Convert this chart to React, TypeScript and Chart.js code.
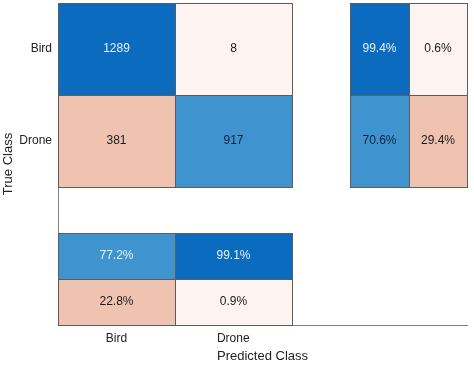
import React, { useEffect, useRef } from "react";
import { Chart, registerables } from "chart.js";

Chart.register(...registerables);

const categories = ["Bird", "Drone"];
// confusion counts [true][predicted]
const counts = [
  [1289, 8],
  [381, 917],
];
// row-normalized summary (%)
const rowSummary = [
  [99.4, 0.6],
  [70.6, 29.4],
];
// column-normalized summary (%) [row: correct / incorrect][predicted]
const colSummary = [
  [77.2, 99.1],
  [22.8, 0.9],
];

const DARK = "#0b6cbf";
const MID = "#3f93cf";
const PINK = "#f0c3b0";
const LIGHT = "#fdf4f1";

const countColors = [
  [DARK, LIGHT],
  [PINK, MID],
];
const countText = [
  ["#e4f2ff", "#1a1a1a"],
  ["#1a1a1a", "#0b2240"],
];
const rowColors = [
  [DARK, LIGHT],
  [MID, PINK],
];
const rowText = [
  ["#e4f2ff", "#1a1a1a"],
  ["#0b2240", "#1a1a1a"],
];
const colColors = [
  [MID, DARK],
  [PINK, LIGHT],
];
const colText = [
  ["#e4f2ff", "#e4f2ff"],
  ["#1a1a1a", "#1a1a1a"],
];

const FONT = "'Liberation Sans', Arial, Helvetica, sans-serif";

const cellPlugin = {
  id: "cells",
  beforeDatasetsDraw(chart: any) {
    const { ctx } = chart;
    const xs = chart.scales.x;
    const ys = chart.scales.y;
    const cell = (
      x0: number,
      x1: number,
      y0: number,
      y1: number,
      fill: string,
      text: string,
      tcol: string
    ) => {
      const px0 = Math.round(xs.getPixelForValue(x0));
      const px1 = Math.round(xs.getPixelForValue(x1));
      const py0 = Math.round(ys.getPixelForValue(y0));
      const py1 = Math.round(ys.getPixelForValue(y1));
      ctx.save();
      ctx.fillStyle = fill;
      ctx.fillRect(px0, py0, px1 - px0, py1 - py0);
      ctx.strokeStyle = "#5c5c5c";
      ctx.lineWidth = 1;
      ctx.strokeRect(px0 + 0.5, py0 + 0.5, px1 - px0, py1 - py0);
      ctx.fillStyle = tcol;
      ctx.font = `12px ${FONT}`;
      ctx.textAlign = "center";
      ctx.textBaseline = "middle";
      ctx.fillText(text, (px0 + px1) / 2, (py0 + py1) / 2);
      ctx.restore();
    };
    // main matrix
    for (let r = 0; r < 2; r++)
      for (let c = 0; c < 2; c++)
        cell(c, c + 1, r, r + 1, countColors[r][c], String(counts[r][c]), countText[r][c]);
    // row summary
    for (let r = 0; r < 2; r++)
      for (let c = 0; c < 2; c++)
        cell(
          2.5 + c * 0.5,
          3 + c * 0.5,
          r,
          r + 1,
          rowColors[r][c],
          rowSummary[r][c].toFixed(1) + "%",
          rowText[r][c]
        );
    // column summary
    for (let r = 0; r < 2; r++)
      for (let c = 0; c < 2; c++)
        cell(
          c,
          c + 1,
          2.5 + r * 0.5,
          3 + r * 0.5,
          colColors[r][c],
          colSummary[r][c].toFixed(1) + "%",
          colText[r][c]
        );
  },
};

export default function App() {
  const ref = useRef<HTMLCanvasElement>(null);
  useEffect(() => {
    if (!ref.current) return;
    const tickPos = categories.map((_, i) => i + 0.5);
    const chart = new Chart(ref.current, {
      type: "scatter",
      data: { datasets: [{ data: [], pointRadius: 0 }] },
      options: {
        animation: false,
        responsive: false,
        layout: { padding: { top: 3, right: 7, left: 0, bottom: 0 } },
        plugins: { legend: { display: false }, tooltip: { enabled: false } },
        scales: {
          x: {
            type: "linear",
            min: 0,
            max: 3.5,
            afterBuildTicks: (s: any) => {
              s.ticks = tickPos.map((v) => ({ value: v }));
            },
            afterFit: (s: any) => {
              s.height = 41;
              s.paddingLeft = 0;
              s.paddingRight = 0;
            },
            ticks: {
              autoSkip: false,
              maxRotation: 0,
              padding: 6,
              color: "#222",
              font: { family: FONT, size: 12 },
              callback: (v: any) => categories[Math.floor(Number(v))] ?? "",
            },
            grid: { display: false, drawTicks: false },
            border: { display: true, color: "#808080", width: 1 },
            title: {
              display: true,
              text: "Predicted Class",
              color: "#222",
              font: { family: FONT, size: 13 },
              padding: { top: 0, bottom: 2 },
            },
          },
          y: {
            type: "linear",
            min: 0,
            max: 3.5,
            reverse: true,
            afterBuildTicks: (s: any) => {
              s.ticks = tickPos.map((v) => ({ value: v }));
            },
            afterFit: (s: any) => {
              s.width = 58;
              s.paddingTop = 0;
              s.paddingBottom = 0;
            },
            ticks: {
              autoSkip: false,
              padding: 6,
              color: "#222",
              font: { family: FONT, size: 12 },
              callback: (v: any) => categories[Math.floor(Number(v))] ?? "",
            },
            grid: { display: false, drawTicks: false },
            border: { display: true, color: "#808080", width: 1 },
            title: {
              display: true,
              text: "True Class",
              color: "#222",
              font: { family: FONT, size: 13 },
              padding: { top: 1, bottom: 0 },
            },
          },
        },
      },
      plugins: [cellPlugin],
    } as any);
    return () => chart.destroy();
  }, []);
  return (
    <div style={{ position: "fixed", left: 0, top: 0, width: 474, height: 366, background: "#fff" }}>
      <canvas ref={ref} width={474} height={366} style={{ width: 474, height: 366 }} />
    </div>
  );
}
